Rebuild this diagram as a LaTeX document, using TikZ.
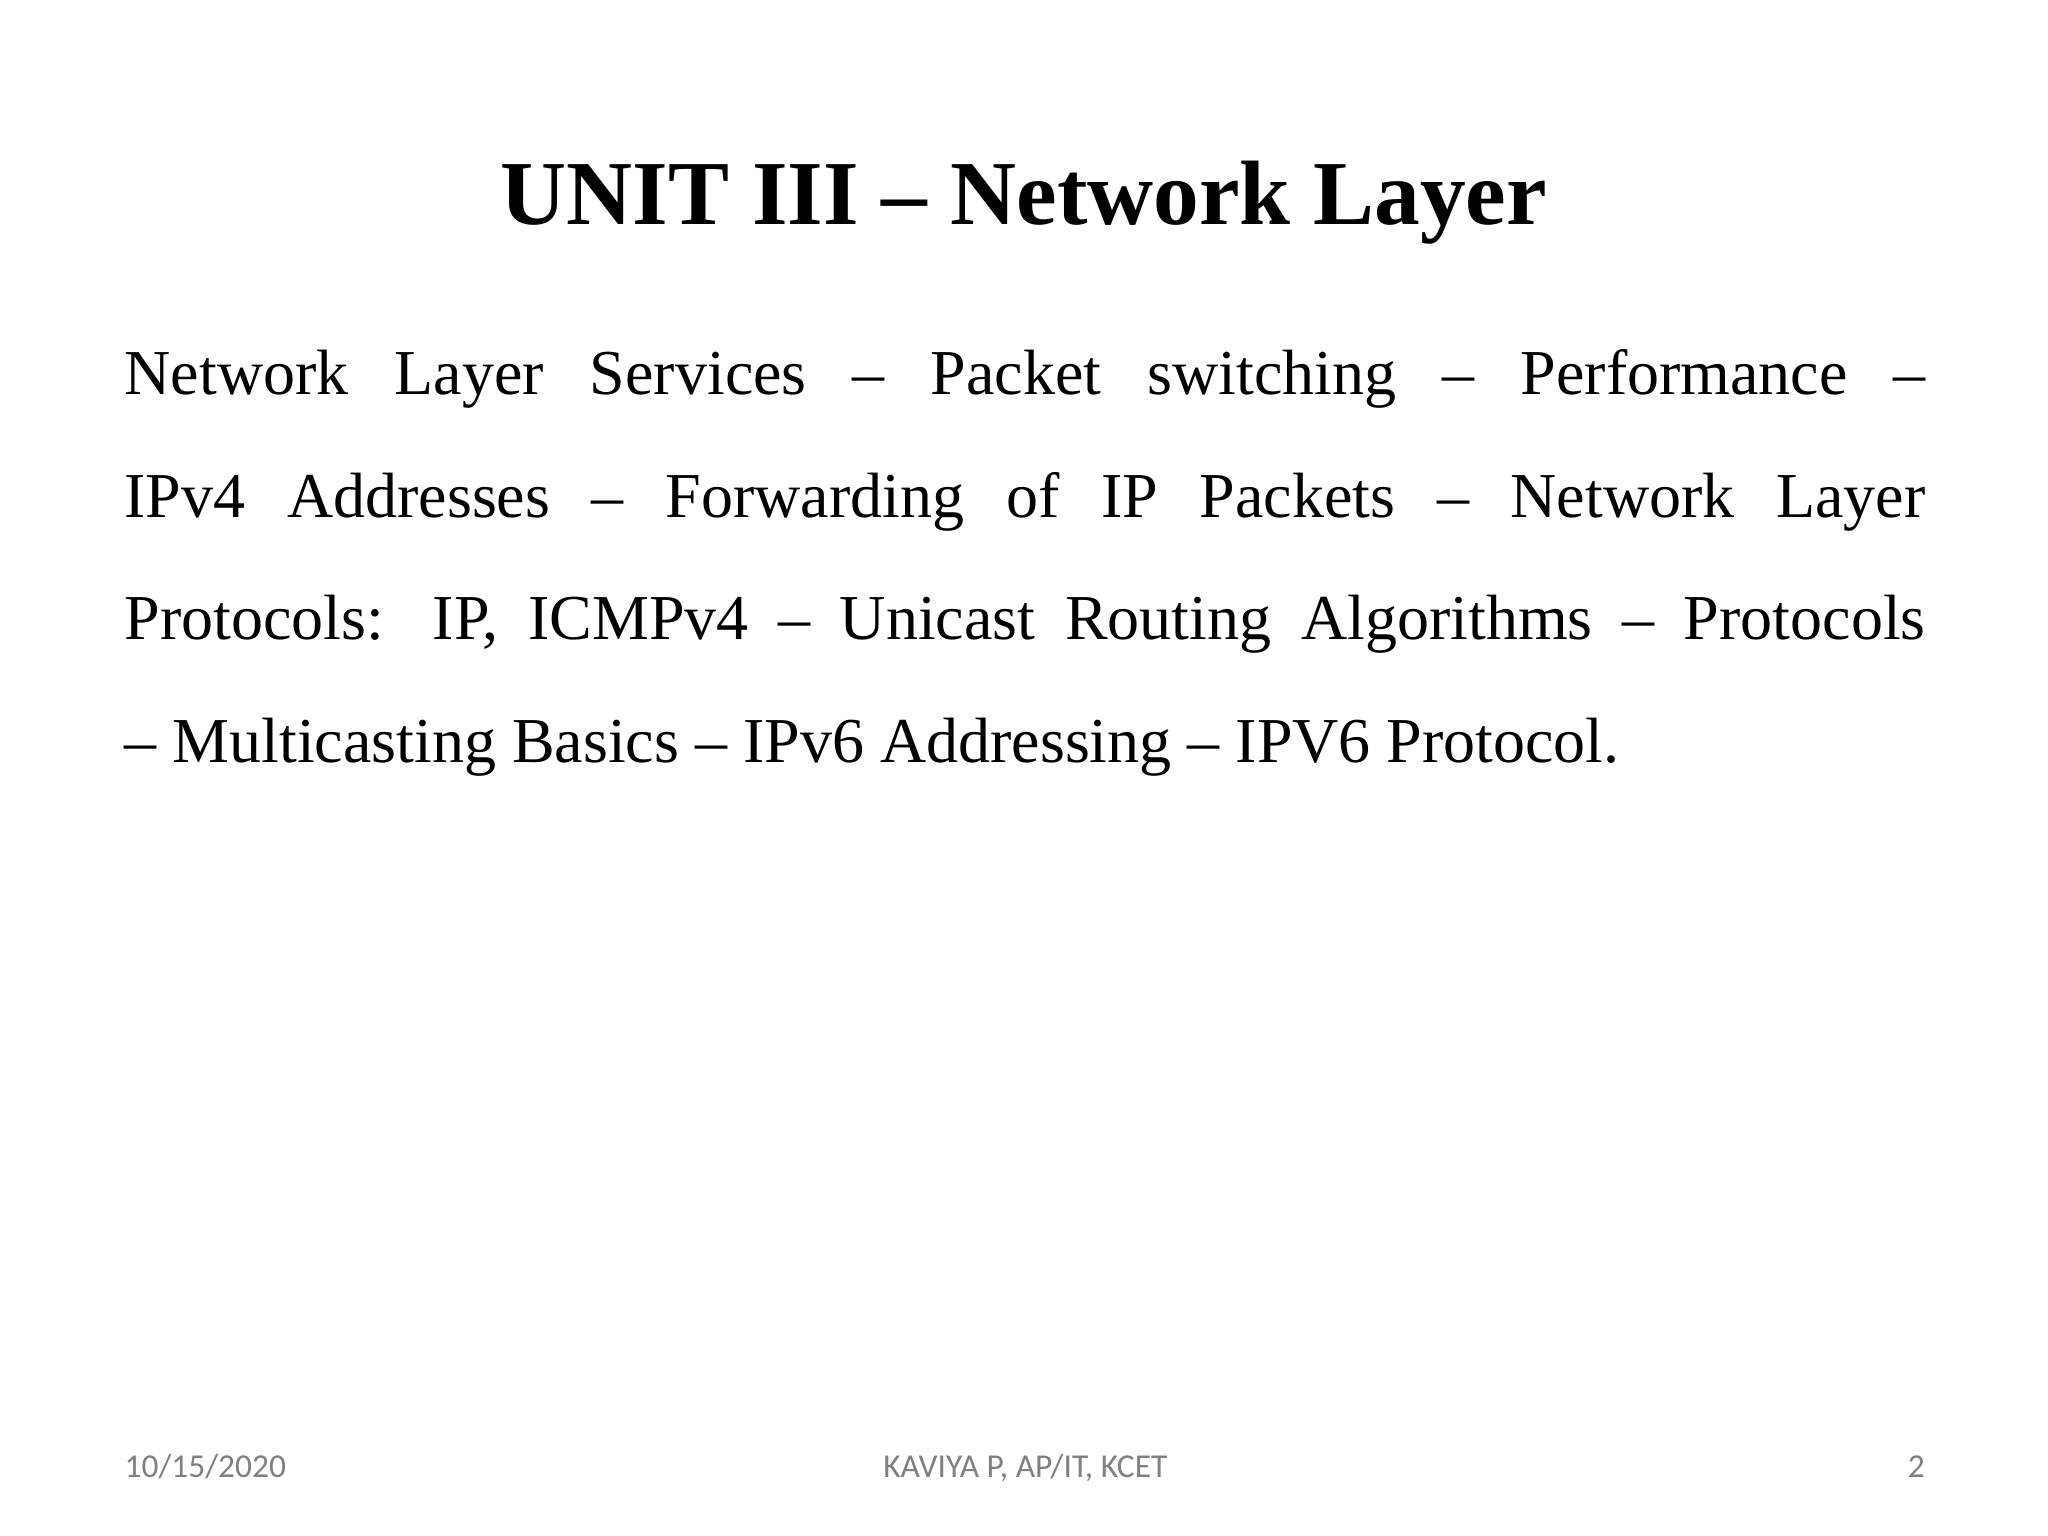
\documentclass[tikz,border=0pt]{standalone}
\usepackage{fontspec}
\setmainfont{Liberation Serif}
\newfontfamily\footfont{Carlito}
\begin{document}
\begin{tikzpicture}[x=1pt,y=1pt,
  foot/.style={inner sep=0pt,anchor=base,font=\footfont\fontsize{12.8}{14}\selectfont,text=black!50}]
\useasboundingbox[fill=white] (0,0) rectangle (784,-588);
\node[inner sep=0pt,anchor=base,font=\bfseries\fontsize{35}{40}\selectfont] (title) at (392,-86) {UNIT III -- Network Layer};
\node[inner sep=0pt,anchor=base west,text width=689.5pt,align=justify,
  font=\fontsize{24.5}{47}\selectfont] (body) at (47.5,-151)
  {\hyphenpenalty=10000 Network Layer Services -- Packet switching -- Performance --\linebreak IPv4 Addresses -- Forwarding of IP Packets -- Network Layer\linebreak Protocols: IP, ICMPv4 -- Unicast Routing Algorithms -- Protocols\linebreak -- Multicasting Basics -- IPv6 Addressing -- IPV6 Protocol.};
\node[foot,anchor=base west] (date) at (47.5,-565.5) {10/15/2020};
\node[foot] (author) at (392.5,-565.5) {KAVIYA P, AP/IT, KCET};
\node[foot,anchor=base east] (page) at (737,-565.5) {2};
\end{tikzpicture}
\end{document}
